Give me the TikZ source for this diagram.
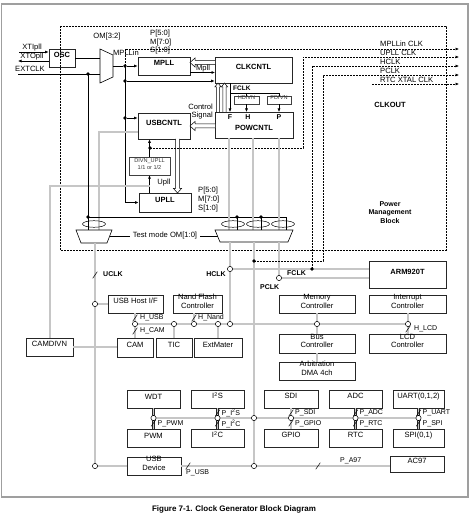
\documentclass[tikz,border=0pt]{standalone}
\usepackage{fontspec}
\setmainfont{Liberation Sans}
\usetikzlibrary{arrows.meta,fit,calc}
\newcommand{\slsh}[1]{\draw[line width=0.5pt] ($(#1)+(-2.3,3.3)$) -- ($(#1)+(2.3,-3.3)$);}
\newcommand{\hollowL}[3]{\draw[line width=0.5pt,fill=white] (#1,#3-2) -- (#2+5,#3-2) -- (#2+5,#3-4.5) -- (#2,#3) -- (#2+5,#3+4.5) -- (#2+5,#3+2) -- (#1,#3+2);}
\newcommand{\hollowV}[3]{\draw[line width=0.5pt,fill=white] (#1-1.6,#2) -- (#1-1.6,#3+4) -- (#1-3.2,#3+4) -- (#1,#3) -- (#1+3.2,#3+4) -- (#1+1.6,#3+4) -- (#1+1.6,#2);}
\newcommand{\hollowD}[3]{\draw[line width=0.5pt,fill=white] (#1-2,#2) -- (#1-2,#3-4.5) -- (#1-4,#3-4.5) -- (#1,#3) -- (#1+4,#3-4.5) -- (#1+2,#3-4.5) -- (#1+2,#2);}
\begin{document}
\begin{tikzpicture}[x=1pt,y=-1pt,
 box/.style={draw=black!85, line width=0.7pt, inner sep=0pt, font=\fontsize{7.6}{8.3}\selectfont, align=center},
 bbox/.style={box, font=\fontsize{7.5}{8}\selectfont\bfseries},
 tbox/.style={draw=black!75, line width=0.5pt, inner sep=0pt, align=center, text=black!80, font=\fontsize{5.6}{6.4}\selectfont},
 bus/.style={draw=black!85, line width=0.55pt, double=gray!45, double distance=1.6pt},
 sig/.style={draw=black, line width=0.6pt},
 thk/.style={draw=black, line width=1pt},
 dsh/.style={draw=black, line width=0.6pt, dash pattern=on 1.8pt off 1.2pt},
 arr/.style={-{Latex[length=3.5pt,width=3pt]}},
 lab/.style={font=\fontsize{7.6}{8.3}\selectfont, inner sep=0pt},
 slab/.style={font=\fontsize{7}{8}\selectfont, inner sep=0pt, anchor=west},
 blab/.style={font=\fontsize{7}{8}\selectfont\bfseries, inner sep=0pt},
 jdot/.style={circle, fill=black, inner sep=0pt, minimum size=3.6pt},
 odot/.style={circle, draw=black, fill=white, line width=0.5pt, inner sep=0pt, minimum size=5.2pt}]
\useasboundingbox (0,0) rectangle (474,518);
\draw[draw=gray!75, line width=1.6pt] (1.5,4) rectangle (468,497);
\node[font=\fontsize{8}{9}\selectfont\bfseries] (cap) at (234,509) {Figure 7-1. Clock Generator Block Diagram};

% power management block
\draw[dsh] (60,26) rectangle (446,250);

% ---------- nodes (top) ----------
\node[bbox, fit={(49,49) (75,67)}] (osc) {OSC};
\node[bbox, fit={(138,57) (190,75)}] (mpll) {MPLL};
\node[bbox, fit={(215,57) (292,83)}] (clk) {CLKCNTL};
\node[box, fit={(215,112) (293,138)}] (pow) {};
\node[bbox, fit={(138,113) (190,139)}] (usb) {USBCNTL};
\node[bbox, fit={(139,193) (191,212)}] (upll) {UPLL};
\node[tbox, fit={(129,157) (170,175)}] (divn) {DIVN\_UPLL\\1/1 or 1/2};
\node[tbox, fit={(234,96) (259,104)}] (hdivn) {HDIVN};
\node[tbox, fit={(267,96) (291,104)}] (pdivn) {PDIVN};
\node[blab] at (230,117.5) {F};
\node[blab] at (248,117.5) {H};
\node[blab] at (279,117.5) {P};
\node[blab, font=\fontsize{7.5}{8}\selectfont\bfseries] at (254,128) {POWCNTL};

% inputs
\node[lab] (xtil) at (32,47.5) {XTIpll};
\node[lab] (xtol) at (32,56.5) {XTOpll};
\node[lab] (extl) at (30,69) {EXTCLK};
\coordinate (xti) at (19,52);
\coordinate (xto) at (18,61);
\draw[sig,arr] (xti) -- (xti -| osc.west);
\draw[sig,arr] (xto -| osc.west) -- (xto);
% top mux
\draw[sig, fill=white] (100,49) -- (113,55) -- (113,77) -- (100,83) -- cycle;
\coordinate (m1a) at (100,58);
\coordinate (m1b) at (100,74);
\coordinate (m1o) at (113,66);
\node[lab] at (107,37) {OM[3:2]};
\draw[sig] (osc.east) -- (m1a);
\coordinate (ext) at (18,74);
\draw[sig] (ext) -- (m1b);
\node[jdot] (dx) at (88,74) {};

% MPLLin and spine
\node[jdot] (d1) at (125,66) {};
\node[jdot] (d2) at (125,81) {};
\node[jdot] (d3) at (125,118) {};
\draw[sig] (m1o) -- (d1);
\draw[sig,arr] (d1) -- (mpll.west);
\draw[thk,arr] (d1.center) |- (upll.west);
\draw[sig,arr] (d2) -- (d2 -| clk.west);
\draw[sig,arr] (d3) -- (d3 -| usb.west);
\node[lab, anchor=west] at (150,34) {P[5:0]};
\node[lab, anchor=west] at (150,42.5) {M[7:0]};
\node[lab, anchor=west] at (150,51) {S[1:0]};

% CLKCNTL <-> MPLL
\hollowL{215}{190}{62.5}
\draw[sig,arr] (190,72.5) -- (215,72.5);
\node[lab] at (203,68.5) {Mpll};
% POWCNTL -> CLKCNTL hollow up
\hollowV{218}{112}{83}
\hollowV{224.5}{112}{83}
% FCLK distribution
\draw[sig,arr] (230,83) -- (230,112);
\draw[sig] (230,93) -- (279,93) -- (pdivn.north);
\draw[sig] (246.5,93) -- (hdivn.north);
\draw[sig,arr] (hdivn.south) -- (246.5,112);
\draw[sig,arr] (pdivn.south) -- (279,112);
\node[blab, anchor=west, font=\fontsize{6.5}{7}\selectfont\bfseries] at (233,88) {FCLK};
% POWCNTL -> USBCNTL
\hollowL{215}{190}{126}
\node[lab, anchor=east] at (213,107) {Control};
\node[lab, anchor=east] at (213,116) {Signal};
% USBCNTL -> UPLL
\hollowD{177.5}{139}{193}
% UPLL -> DIVN -> USBCNTL
\draw[sig,arr] (upll.north -| divn.south) -- (divn.south);
\draw[sig,arr] (divn.north) -- (divn.north |- usb.south);
\node[jdot] (du) at (150,148) {};
\node[lab] at (164,183) {Upll};
\node[lab, anchor=west] at (198,191) {P[5:0]};
\node[lab, anchor=west] at (198,200) {M[7:0]};
\node[lab, anchor=west] at (198,209) {S[1:0]};

% CLKOUT outputs
\draw[dsh,arr] (d1.center) -- (125,49) -- (459,49);
\node[lab] at (126,52.5) {MPLLin};
\draw[dsh,arr] (du.center) -- (303,148) -- (303,57) -- (459,57);
\coordinate (rtc) at (372,84);
\draw[dsh,arr] (rtc) -- (459,84);
\node[lab, anchor=west] at (380,44) {MPLLin CLK};
\node[lab, anchor=west] at (380,52.5) {UPLL CLK};
\node[lab, anchor=west] at (380,61.5) {HCLK};
\node[lab, anchor=west] at (380,70.5) {PCLK};
\node[lab, anchor=west] at (380,79.5) {RTC XTAL CLK};
\node[blab, font=\fontsize{7.5}{8}\selectfont\bfseries] at (390,105) {CLKOUT};
\node[blab, align=center, font=\fontsize{7}{8.5}\selectfont\bfseries] at (390,212.5) {Power\\Management\\Block};

% USB clock path to left mux
\draw[bus] (usb.west |- 0,132) -- (99,132) -- (99,230);
% upll -> camdivn
\node[box, fit={(26,338) (73,356)}] (camdivn) {CAMDIVN};
\draw[bus] (150,186) -- (50,186) -- (camdivn.north -| 50,0);

% EXTCLK vertical and test line
\draw[sig] (dx.center) -- (88,230);
\node[jdot] (dt0) at (88,217) {};
\node[jdot] (dt1) at (237,217) {};
\node[jdot] (dt2) at (261,217) {};
\draw[sig] (dt0.center) -- (286,217) -- (286,230);
\draw[sig] (dt1.center) -- (237,230);
\draw[sig] (dt2.center) -- (261,230);
% F H P
\draw[bus] (229,138) -- (229,230);
\draw[bus] (253,138) -- (253,230);
\draw[bus] (279,138) -- (279,230);
% ellipses
\draw[line width=0.5pt] (94,224) ellipse [x radius=11.5pt, y radius=3.3pt];
\draw[line width=0.5pt] (233,224) ellipse [x radius=11.5pt, y radius=3.3pt];
\draw[line width=0.5pt] (258,224) ellipse [x radius=11.5pt, y radius=3.3pt];
\draw[line width=0.5pt] (283,224) ellipse [x radius=11.5pt, y radius=3.3pt];
% muxes
\draw[sig, fill=white] (76,230) -- (112,230) -- (107,243) -- (81,243) -- cycle;
\draw[sig, fill=white] (215,230) -- (293,230) -- (288,242) -- (220,242) -- cycle;
\node[lab] (tm) at (165,236) {Test mode OM[1:0]};
\draw[sig] (109.5,236) -- ($(tm.west)+(-3,0)$);
\draw[sig] ($(tm.east)+(3,0)$) -- (217.5,236);

% ---------- lower nodes ----------
\node[bbox, fit={(369,261) (446,288)}] (arm) {ARM920T};
\node[box, fit={(108,295) (163,313)}] (uh) {USB Host I/F};
\node[box, fit={(173,295) (222,313)}] (nand) {Nand Flash\\Controller};
\node[box, fit={(117,338) (153,357)}] (cam) {CAM};
\node[box, fit={(156,338) (192,357)}] (tic) {TIC};
\node[box, fit={(194,338) (242,357)}] (extm) {ExtMater};
\node[box, fit={(279,295) (355,313)}] (mem) {Memory\\Controller};
\node[box, fit={(279,334) (355,353)}] (busc) {Bus\\Controller};
\node[box, fit={(279,362) (355,380)}] (dma) {Arbitration\\DMA 4ch};
\node[box, fit={(369,295) (446,313)}] (intc) {Interrupt\\Controller};
\node[box, fit={(369,334) (446,353)}] (lcd) {LCD\\Controller};

\node[box, fit={(127,390) (180,408)}] (wdt) {WDT};
\node[box, fit={(191,390) (244,408)}] (iis) {I\textsuperscript{2}S};
\node[box, fit={(264,390) (318,408)}] (sdi) {SDI};
\node[box, fit={(329,390) (382,408)}] (adc) {ADC};
\node[box, fit={(393,390) (444,408)}] (uart) {UART(0,1,2)};
\node[box, fit={(127,429) (180,447)}] (pwm) {PWM};
\node[box, fit={(191,429) (244,447)}] (iic) {I\textsuperscript{2}C};
\node[box, fit={(264,429) (318,447)}] (gpio) {GPIO};
\node[box, fit={(329,429) (382,447)}] (rtcb) {RTC};
\node[box, fit={(393,429) (444,447)}] (spi) {SPI(0,1)};
\node[box, fit={(127,457) (181,475)}] (ud) {USB\\Device};
\node[box, fit={(390,456) (444,472)}] (ac) {AC97};

% clock verticals
\draw[bus] (95,243) -- (95,466);
\draw[bus] (230,242) -- (230,324);
\draw[bus] (254,242) -- (254,466);
\draw[bus] (279,242) -- (279,278);
\draw[bus] (230,269) -- (230,269 -| arm.west);
\draw[bus] (279,278) -- (279,278 -| arm.west);
\node[jdot] (jp) at (254,261) {};
\node[jdot] (jh) at (312,269) {};
\draw[dsh,arr] (jh.center) -- (312,66) -- (459,66);
\draw[dsh,arr] (jp.center) -- (323,261) -- (323,75) -- (459,75);
\node[blab, anchor=east] at (226,274) {HCLK};
\node[blab, anchor=west] at (103,274) {UCLK};
\node[blab, anchor=west] at (260,287) {PCLK};
\node[blab, anchor=west] at (287,273.5) {FCLK};
\coordinate (us) at (95,275);
\slsh{us}

% AHB bus
\draw[bus] (135,324) -- (408,324);
\draw[bus] (95,304) -- (uh.west);
\draw[bus] (uh.south -| cam.north) -- (cam.north);
\draw[bus] (nand.south -| 194,0) -- (194,324);
\draw[bus] (tic.north) -- (tic.north |- 0,324);
\draw[bus] (218,324) -- (218,338);
\draw[bus] (mem.south) -- (busc.north);
\draw[bus] (busc.south) -- (dma.north);
\draw[bus] (intc.south -| 408,0) -- (lcd.north -| 408,0);
\draw[bus] (camdivn.east) -- (camdivn.east -| cam.west);
\coordinate (s1) at (135,318); \slsh{s1}
\coordinate (s2) at (135,331); \slsh{s2}
\coordinate (s3) at (194,318); \slsh{s3}
\coordinate (s4) at (408,329); \slsh{s4}
\node[slab] at (140,318) {H\_USB};
\node[slab] at (140,331) {H\_CAM};
\node[slab] at (198,318) {H\_Nand};
\node[slab] at (414,329) {H\_LCD};

% APB bus
\draw[bus] (153,418) -- (418,418);
\foreach \t/\b in {wdt/pwm, iis/iic, sdi/gpio, adc/rtcb, uart/spi}{
  \draw[bus] (\t.south) -- (\b.north);
}
\draw[bus] (95,466) -- (ud.west);
\draw[bus] (ud.east) -- (254,466) -- (254,466 -| ac.west);
\foreach \x in {217.5,291,355.5,418.5}{
  \coordinate (tt) at (\x,413); \slsh{tt}
  \coordinate (tb) at (\x,423); \slsh{tb}
}
\coordinate (tb0) at (153.5,423); \slsh{tb0}
\node[slab] at (157.5,424) {P\_PWM};
\node[slab] at (221.5,412.5) {P\_I\textsuperscript{2}S};
\node[slab] at (221.5,424) {P\_I\textsuperscript{2}C};
\node[slab] at (295,412.5) {P\_SDI};
\node[slab] at (295,424) {P\_GPIO};
\node[slab] at (359.5,412.5) {P\_ADC};
\node[slab] at (359.5,424) {P\_RTC};
\node[slab] at (422.5,412.5) {P\_UART};
\node[slab] at (422.5,424) {P\_SPI};
\coordinate (su) at (188,466); \slsh{su}
\node[slab] at (186,472.5) {P\_USB};
\coordinate (sa) at (318,466); \slsh{sa}
\node[slab] at (340,460.5) {P\_A97};

% junction circles
\foreach \p in {(95,304),(95,466),(230,269),(230,324),(279,278),(135,324),(174,324),(194,324),(218,324),(317,324),(408,324),
  (153.5,418),(217.5,418),(254,418),(291,418),(355.5,418),(418.5,418),(254,466)}{
  \node[odot] at \p {};
}
\end{tikzpicture}
\end{document}
